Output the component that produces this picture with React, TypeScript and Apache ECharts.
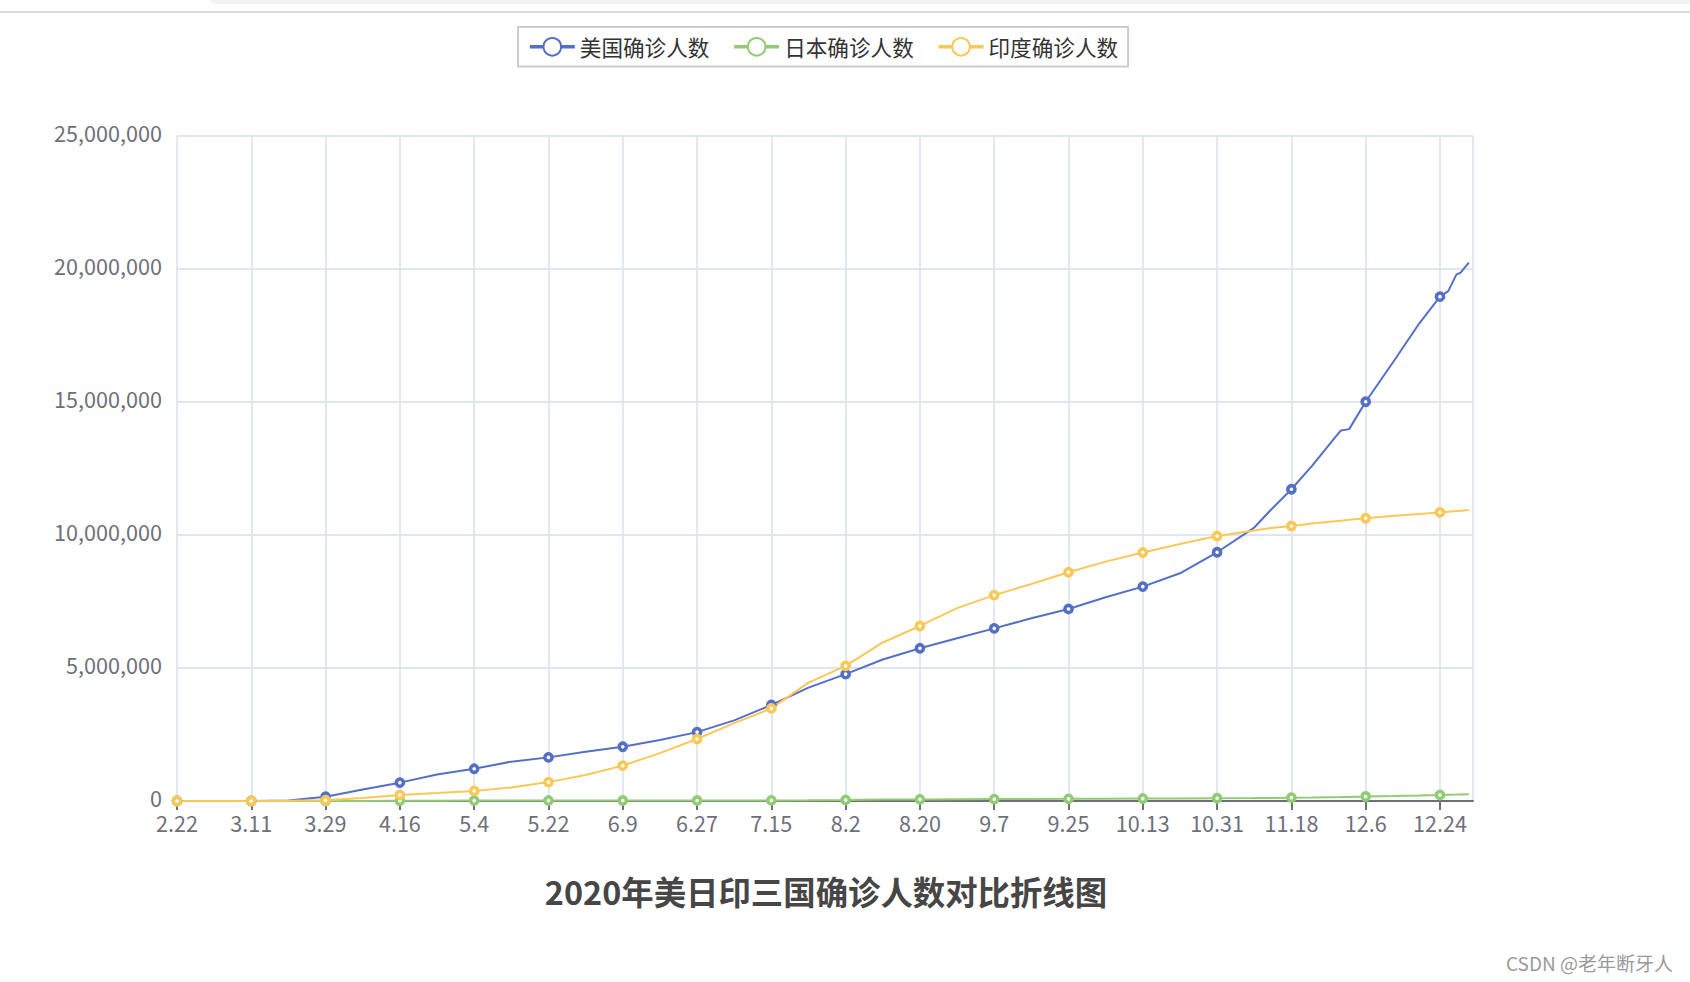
import { useEffect, useRef } from "react"
import * as echarts from "echarts"

// day index counted from 2.22 (2020)
const days = [
  0, 9, 18, 27, 36, 45, 54, 63, 72, 81, 90, 99, 108, 117, 126, 135, 144, 153, 162, 171, 180, 189,
  198, 207, 216, 225, 234, 243, 252, 261, 265, 270, 275, 280, 282, 284, 288, 295, 301, 306, 308,
  310, 311, 313,
]

const usCases = [
  15, 70, 1300, 20000, 160000, 430000, 690000, 1000000, 1210000, 1480000, 1640000, 1850000,
  2040000, 2290000, 2590000, 3030000, 3610000, 4260000, 4770000, 5320000, 5740000, 6120000,
  6490000, 6870000, 7220000, 7660000, 8060000, 8560000, 9350000, 10280000, 10940000, 11720000,
  12600000, 13560000, 13930000, 13980000, 15010000, 16580000, 17960000, 18960000, 19170000,
  19800000, 19860000, 20240000,
]

const japanCases = [
  130, 240, 620, 1000, 1900, 4200, 9200, 13000, 15100, 16200, 16600, 17000, 17300, 17800, 18500,
  20000, 23000, 30000, 40000, 52000, 60000, 66000, 72000, 77000, 81000, 86000, 91000, 97000,
  104000, 112000, 117000, 125000, 134000, 144000, 149000, 155000, 168000, 188000, 208000, 228000,
  236000, 243000, 247000, 252000,
]

const indiaCases = [
  100, 300, 2000, 8000, 30000, 110000, 230000, 300000, 380000, 510000, 710000, 980000, 1330000,
  1800000, 2330000, 2930000, 3480000, 4450000, 5080000, 5960000, 6580000, 7250000, 7740000,
  8160000, 8600000, 9000000, 9340000, 9660000, 9960000, 10170000, 10260000, 10340000, 10430000,
  10510000, 10540000, 10570000, 10630000, 10720000, 10790000, 10850000, 10870000, 10900000,
  10910000, 10940000,
]

const xTickLabels = [
  "2.22", "3.11", "3.29", "4.16", "5.4", "5.22", "6.9", "6.27", "7.15", "8.2", "8.20", "9.7",
  "9.25", "10.13", "10.31", "11.18", "12.6", "12.24",
]
const yTickLabels = ["0", "5,000,000", "10,000,000", "15,000,000", "20,000,000", "25,000,000"]

const seriesNames = ["美国确诊人数", "日本确诊人数", "印度确诊人数"]
const seriesColors = ["#5470c6", "#91cc75", "#fac858"]

const titleText = "2020年美日印三国确诊人数对比折线图"
const watermark = "CSDN @老年断牙人"

const FONT = "'Microsoft YaHei', 'Noto Sans CJK SC', sans-serif"

export default function App() {
  const hostRef = useRef<HTMLDivElement>(null)

  useEffect(() => {
    const el = hostRef.current
    if (!el) return
    const chart = echarts.init(el, undefined, { renderer: "svg" })

    const toData = (vals: number[]) =>
      days.map((d, i) => ({
        value: [d, vals[i]],
        symbol: d % 18 === 0 ? "circle" : "none",
      }))

    const makeSeries = (name: string, vals: number[], color: string) => ({
      type: "line",
      name,
      data: toData(vals),
      symbol: "circle",
      symbolSize: 7.2,
      itemStyle: { color: "#fff", borderColor: color, borderWidth: 3.6 },
      lineStyle: { color, width: 2 },
      emphasis: { disabled: true },
    })

    chart.setOption({
      animation: false,
      color: seriesColors,
      textStyle: { fontFamily: FONT },
      legend: {
        left: 518,
        top: 27,
        itemWidth: 45,
        itemHeight: 22,
        itemGap: 23,
        padding: [9, 10],
        borderColor: "#ccc",
        borderWidth: 2,
        lineStyle: { width: 3.6 },
        textStyle: { fontSize: 21.6, color: "#333", fontFamily: FONT },
        data: seriesNames,
      },
      grid: { left: 177, right: 217, top: 136, bottom: 181, containLabel: false, outerBoundsMode: "none" },
      xAxis: {
        type: "value",
        min: 0,
        max: 314,
        interval: 18,
        axisLine: { show: true, lineStyle: { color: "#6E7079", width: 2 } },
        axisTick: { show: true, length: 9, lineStyle: { color: "#6E7079", width: 2 } },
        axisLabel: {
          color: "#6E7079",
          fontSize: 21.6,
          lineHeight: 22,
          margin: 10,
          fontFamily: FONT,
          formatter: (v: number) => xTickLabels[Math.round(v / 18)] ?? "",
          showMaxLabel: false,
        },
        splitLine: { show: true, lineStyle: { color: "#E0E6F1", width: 1.8 } },
      },
      yAxis: {
        type: "value",
        min: 0,
        max: 25000000,
        interval: 5000000,
        axisLine: { show: false },
        axisTick: { show: false },
        axisLabel: {
          color: "#6E7079",
          fontSize: 21.6,
          verticalAlign: "bottom",
          lineHeight: 8,
          margin: 15,
          fontFamily: FONT,
          formatter: (v: number) => yTickLabels[Math.round(v / 5000000)] ?? "",
        },
        splitLine: { show: true, lineStyle: { color: "#E0E6F1", width: 1.8 } },
      },
      graphic: [
        { type: "rect", shape: { x: 210, y: -8, width: 1500, height: 12, r: 8 }, style: { fill: "#f1f2f4" } },
        { type: "rect", shape: { x: 0, y: 11, width: 1690, height: 2 }, style: { fill: "#dcdcdc" } },
        {
          type: "text",
          x: 826,
          y: 890,
          style: {
            text: titleText,
            fill: "#464646",
            fontSize: 32.4,
            fontWeight: "bold",
            fontFamily: FONT,
            align: "center",
            verticalAlign: "middle",
          },
        },
        {
          type: "text",
          x: 1673,
          y: 962,
          style: {
            text: watermark,
            fill: "#9a9a9a",
            fontSize: 19,
            fontFamily: FONT,
            align: "right",
            verticalAlign: "middle",
          },
        },
      ],
      series: [
        makeSeries(seriesNames[0], usCases, seriesColors[0]),
        makeSeries(seriesNames[1], japanCases, seriesColors[1]),
        makeSeries(seriesNames[2], indiaCases, seriesColors[2]),
      ],
    })

    return () => {
      chart.dispose()
    }
  }, [])

  return (
    <div
      ref={hostRef}
      style={{ position: "fixed", left: 0, top: 0, width: 1690, height: 982, background: "#fff" }}
    />
  )
}
